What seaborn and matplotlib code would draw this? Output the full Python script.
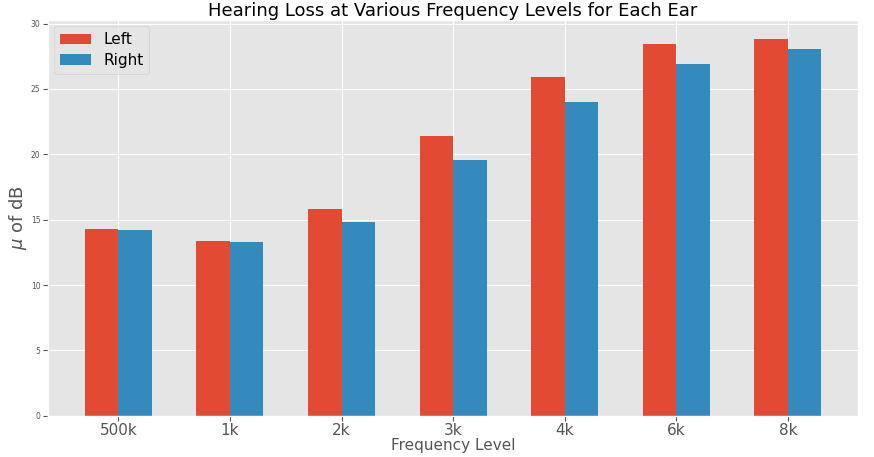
import pandas as pd
import seaborn as sns
import matplotlib
matplotlib.use("Agg")
import matplotlib.pyplot as plt

plt.style.use("ggplot")

freqs = ["500k", "1k", "2k", "3k", "4k", "6k", "8k"]
left = [14.3, 13.35, 15.85, 21.42, 25.88, 28.47, 28.82]
right = [14.25, 13.28, 14.85, 19.58, 23.98, 26.87, 28.02]

df = pd.DataFrame({
    "freq": freqs * 2,
    "db": left + right,
    "ear": ["Left"] * len(freqs) + ["Right"] * len(freqs),
})

fig, ax = plt.subplots(figsize=(8.74, 4.57), dpi=100)
sns.barplot(
    data=df, x="freq", y="db", hue="ear",
    palette=["#E24A33", "#348ABD"], width=0.6,
    saturation=1, ax=ax,
)
ax.set_xlim(-0.63, len(freqs) - 1 + 0.63)
ax.xaxis.grid(True)
ax.set_axisbelow(True)
ax.set_title("Hearing Loss at Various Frequency Levels for Each Ear",
             fontsize=13, color="black", pad=3)
ax.set_xlabel("Frequency Level", fontsize=11, labelpad=0)
ax.set_ylabel(r"$\mu$ of dB", fontsize=13, labelpad=1)
ax.tick_params(axis="x", labelsize=11, pad=1.5)
ax.tick_params(axis="y", labelsize=5.5, pad=2)
ax.legend(loc="upper left", fontsize=11, title=None,
          labelspacing=0.35, borderaxespad=0.4)
plt.subplots_adjust(left=0.055, right=0.982, top=0.956, bottom=0.09)
plt.savefig("out.png", dpi=100)
